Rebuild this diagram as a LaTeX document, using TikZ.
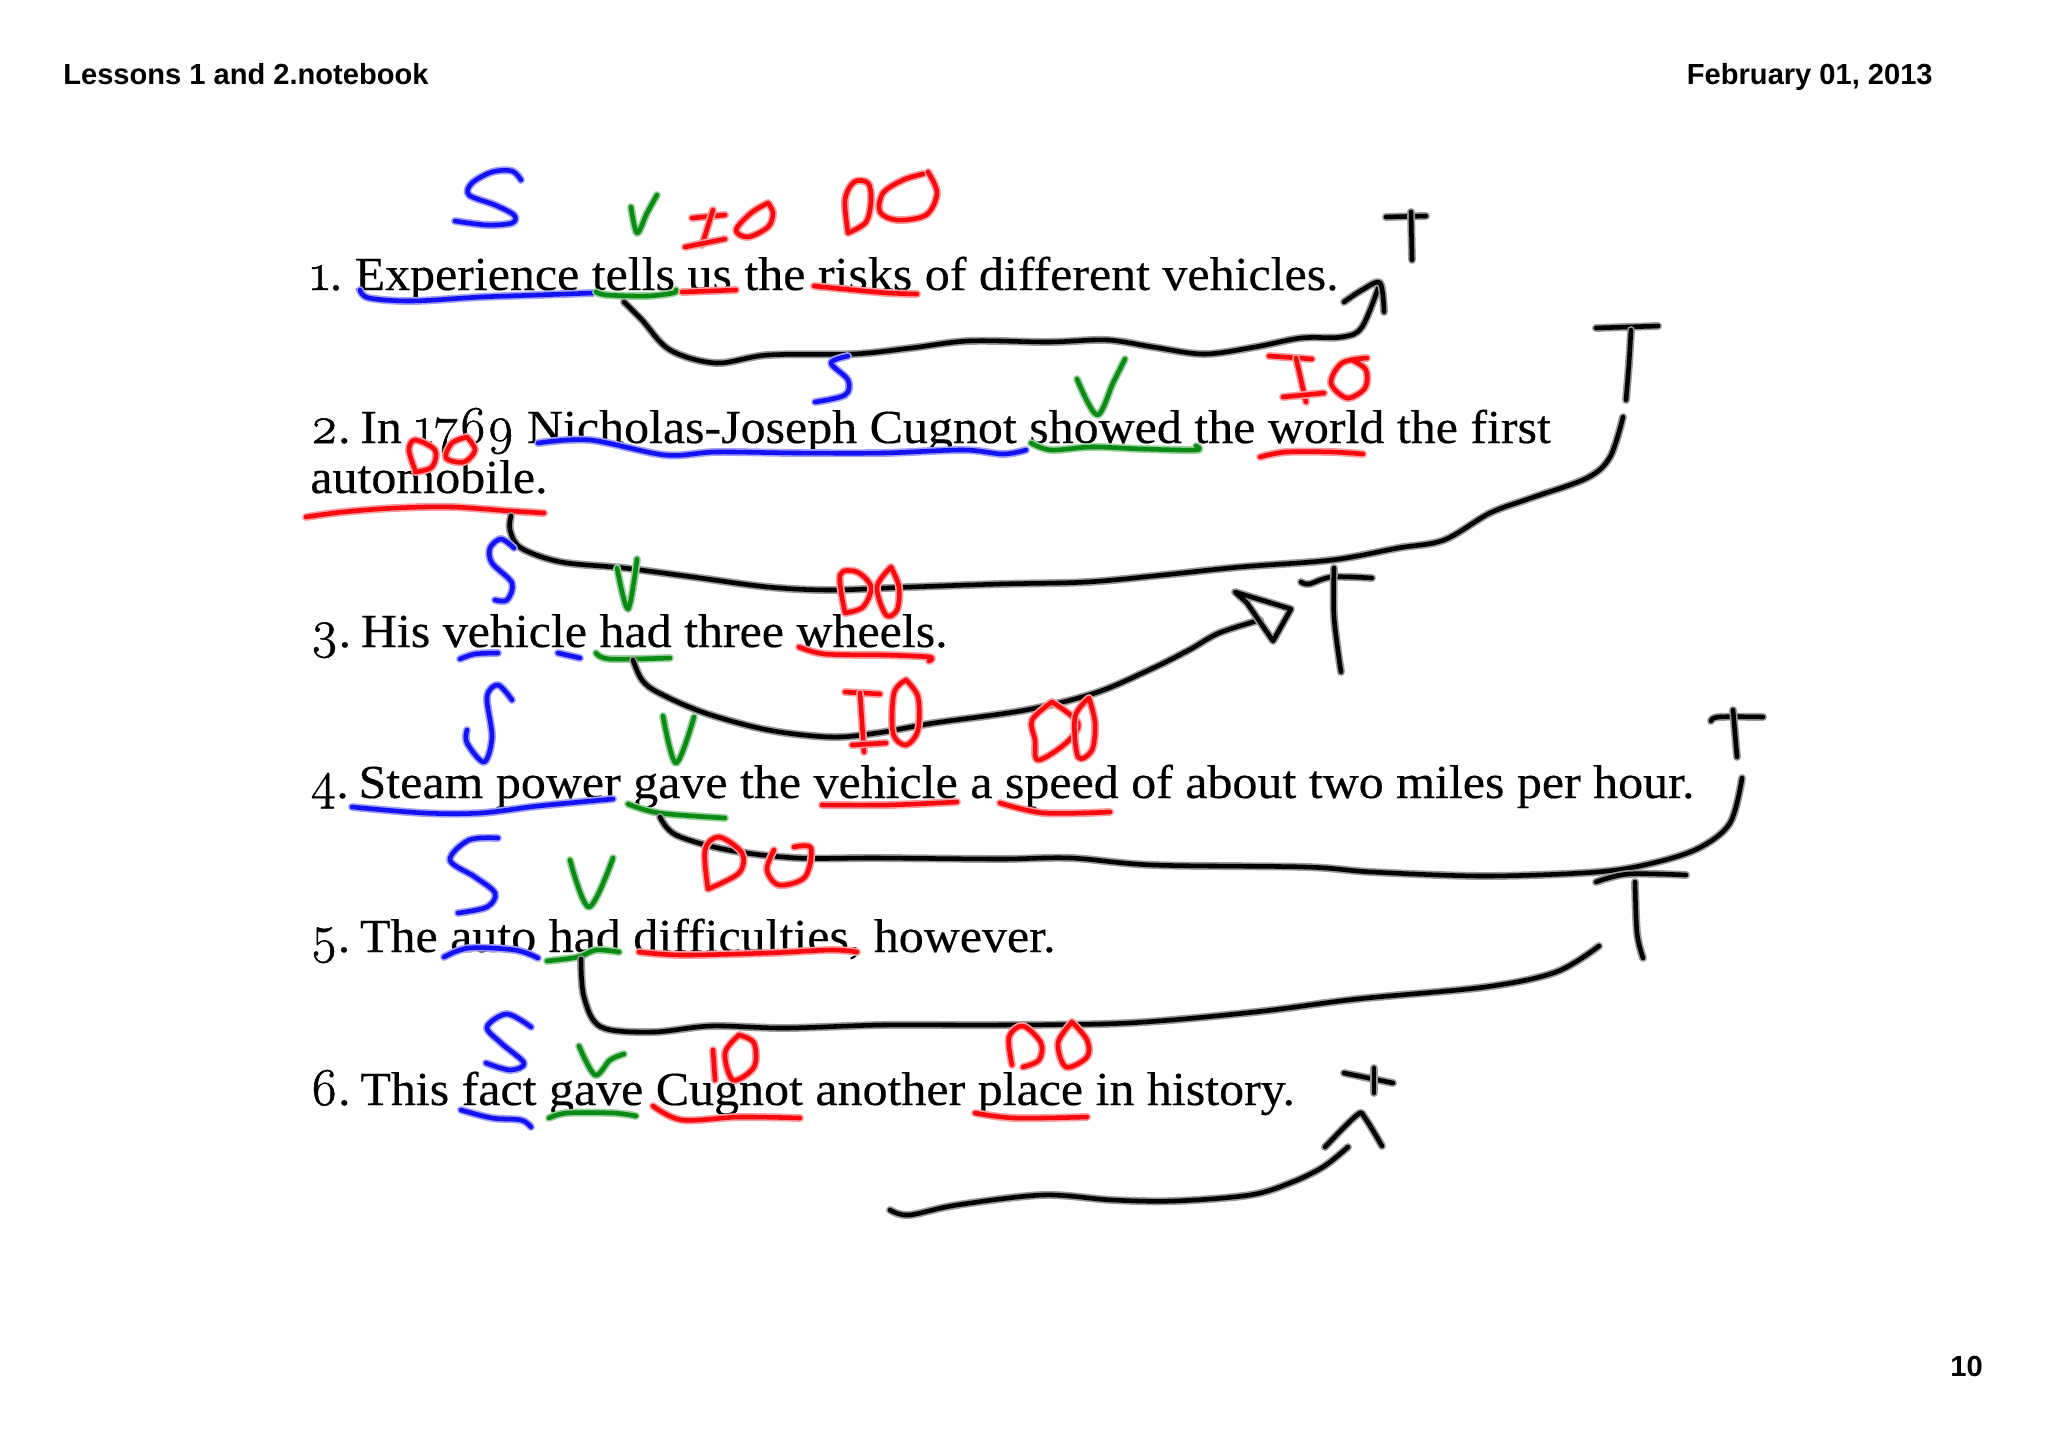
\documentclass[tikz,border=0pt]{standalone}
\usepackage{fontspec}
\setmainfont[FakeStretch=1.053,FakeBold=0.35]{Liberation Serif}
\newfontfamily\headfont{Liberation Sans}
\newfontfamily\numfont[Numbers=OldStyle,Scale=1.12,FakeBold=1]{Latin Modern Roman}
\newcommand{\olds}[1]{{\numfont #1}}
\newcommand{\pen}[2]{\draw[#1] plot[smooth,tension=.55] coordinates {#2};}
\definecolor{inkblue}{RGB}{18,18,245}
\definecolor{inkgreen}{RGB}{10,140,20}
\definecolor{inkred}{RGB}{250,10,15}
\tikzset{
	ink/.style={draw=#1,line width=2.6pt,preaction={draw=#1!40,line width=4.5pt}},
	bl/.style={ink=inkblue},
	gr/.style={ink=inkgreen},
	rd/.style={ink=inkred},
	bk/.style={ink=black},
	sentence/.style={anchor=base west,inner sep=0pt,font=\fontsize{27}{27}\selectfont},
	head/.style={inner sep=0pt,font=\fontsize{16.55}{17}\headfont\bfseries}
}
\begin{document}
\begin{tikzpicture}[x=0.02cm,y=-0.02cm,line join=round,line cap=round]
	\useasboundingbox (0,0) rectangle (2048,1447);
	% page header and number
	\node[head,anchor=base west] (title) at (63,84) {Lessons 1 and 2.notebook};
	\node[head,anchor=base east] (date) at (1933,84) {February 01, 2013};
	\node[head,anchor=base east] (page) at (1983,1376) {10};
	% sentences
	\node[sentence] (s1) at (310,290) {\olds{1}.\kern-2.4pt{} Experience tells us the risks of different vehicles.};
	\node[sentence] (s2) at (310,443) {\olds{2}.\kern-3.9pt{} In \olds{1769} Nicholas-Joseph Cugnot showed the world the first};
	\node[sentence] (s2b) at (310,493) {automobile.};
	\node[sentence] (s3) at (310,647) {\olds{3}.\kern-3.9pt{} His vehicle had three wheels.};
	\node[sentence] (s4) at (310,798) {\olds{4}.\kern-3.9pt{} Steam power gave the vehicle a speed of about two miles per hour.};
	\node[sentence] (s5) at (310,952) {\olds{5}.\kern-3.9pt{} The auto had difficulties, however.};
	\node[sentence] (s6) at (310,1105) {\olds{6}.\kern-3.9pt{} This fact gave Cugnot another place in history.};
	% sentence 1
	\pen{bl}{(521,180)(512,171)(492,172)(472,183)(469,195)(495,205)(514,215)(512,223)(487,225)(455,221)}
	\pen{gr}{(631,207)(637,233)(647,213)(657,195)}
	\pen{rd}{(692,218)(725,215)}
	\pen{rd}{(713,210)(702,245)}
	\pen{rd}{(685,247)(725,239)}
	\pen{rd}{(768,203)(751,213)(736,230)(748,237)(768,227)(773,213)(768,203)}
	\pen{rd}{(848,233)(845,200)(854,182)(868,183)(871,200)(866,222)(848,233)}
	\pen{rd}{(928,172)(937,193)(926,215)(897,220)(880,212)(883,193)(903,180)(923,174)}
	\pen{bl}{(360,290)(369,298)(412,301)(481,297)(538,295)(593,293)}
	\pen{gr}{(596,292)(607,295)(647,296)(673,293)(676,290)}
	\pen{rd}{(682,292)(710,291)(736,290)}
	\pen{rd}{(814,286)(854,290)(888,293)(917,294)}
	\pen{bk}{(624,302)(642,320)(670,350)(716,363)(768,355)(854,354)(911,348)(969,341)(1049,342)(1107,340)(1153,347)(1204,354)(1255,347)(1301,338)(1342,337)(1362,327)(1380,283)}
	\pen{bk}{(1344,302)(1362,290)(1380,283)(1384,312)}
	\pen{bk}{(1386,217)(1426,216)}
	\pen{bk}{(1411,212)(1412,260)}
	% sentence 2
	\pen{bl}{(848,356)(831,363)(848,380)(845,395)(815,402)}
	\pen{gr}{(1077,379)(1097,415)(1113,383)(1125,359)}
	\pen{rd}{(1269,356)(1312,359)}
	\pen{rd}{(1296,358)(1306,402)}
	\pen{rd}{(1283,397)(1324,393)}
	\pen{rd}{(1367,358)(1342,363)(1331,383)(1347,398)(1365,388)(1366,370)(1352,360)}
	\pen{bl}{(538,443)(590,440)(665,455)(716,452)(797,453)(883,453)(963,450)(1003,454)(1026,450)}
	\pen{gr}{(1031,443)(1051,450)(1092,447)(1143,449)(1196,450)(1196,446)}
	\pen{rd}{(1260,457)(1286,452)(1332,452)(1363,454)}
	\pen{rd}{(415,470)(409,450)(415,440)(435,450)(432,467)(415,472)}
	\pen{rd}{(467,437)(452,443)(446,458)(464,462)(475,450)(467,437)}
	\pen{rd}{(306,517)(343,512)(395,508)(452,507)(510,511)(544,513)}
	\pen{bk}{(511,516)(510,530)(521,548)(561,562)(624,568)(693,577)(768,587)(831,590)(911,587)(1000,584)(1087,582)(1163,575)(1240,567)(1332,560)(1398,548)(1444,540)(1490,513)(1531,498)(1587,478)(1610,457)(1623,417)}
	\pen{bk}{(1596,328)(1658,326)}
	\pen{bk}{(1631,330)(1629,363)(1626,400)}
	% sentence 3
	\pen{bl}{(514,548)(501,539)(490,548)(492,563)(512,583)(507,600)(495,600)}
	\pen{gr}{(617,568)(628,609)(637,559)}
	\pen{rd}{(845,613)(840,575)(857,572)(871,587)(863,607)(845,613)}
	\pen{rd}{(891,567)(877,587)(886,615)(897,610)(899,587)(891,567)}
	\pen{bl}{(460,659)(475,654)(498,653)}
	\pen{bl}{(558,653)(580,658)}
	\pen{gr}{(596,653)(610,659)(670,658)}
	\pen{rd}{(799,647)(825,654)(883,655)(929,657)(929,661)}
	\pen{bk}{(633,660)(642,680)(659,693)(705,713)(768,730)(831,737)(877,733)(934,723)(1026,710)(1095,693)(1149,670)(1189,650)(1219,633)(1260,620)}
	\draw[bk] (1235,592)--(1291,609)--(1273,641)--(1247,603)--cycle;
	\pen{bk}{(1301,582)(1309,584)(1332,577)(1372,578)}
	\pen{bk}{(1334,568)(1334,617)(1341,672)}
	% sentence 4
	\pen{bl}{(512,700)(498,685)(487,697)(492,737)(484,762)(467,743)(467,730)}
	\pen{gr}{(663,716)(676,763)(694,717)}
	\pen{rd}{(845,692)(880,694)}
	\pen{rd}{(860,693)(864,752)}
	\pen{rd}{(852,745)(886,743)}
	\pen{rd}{(906,680)(894,693)(893,733)(906,745)(918,730)(918,697)(906,680)}
	\pen{rd}{(1052,702)(1032,720)(1035,740)(1038,760)(1066,743)(1078,723)(1052,702)}
	\pen{rd}{(1089,698)(1075,717)(1078,757)(1092,750)(1095,723)(1089,698)}
	\pen{bl}{(352,807)(424,813)(481,813)(538,806)(613,799)}
	\pen{gr}{(628,804)(659,813)(725,818)}
	\pen{rd}{(822,805)(888,805)(957,802)}
	\pen{rd}{(1000,803)(1044,813)(1110,812)}
	\pen{bk}{(660,817)(676,835)(728,850)(797,858)(877,858)(1000,859)(1071,858)(1153,865)(1306,867)(1372,872)(1485,876)(1597,872)(1653,863)(1699,848)(1730,823)(1742,778)}
	\pen{bk}{(1711,721)(1719,717)(1763,717)}
	\pen{bk}{(1733,710)(1737,757)}
	% sentence 5
	\pen{bl}{(498,838)(469,840)(450,860)(475,877)(495,893)(487,907)(458,913)}
	\pen{gr}{(570,860)(589,907)(613,858)}
	\pen{rd}{(708,889)(705,850)(719,837)(742,853)(739,873)(708,889)}
	\pen{rd}{(774,850)(767,870)(779,885)(805,877)(811,848)(794,847)}
	\pen{bl}{(444,957)(469,948)(515,950)(538,958)}
	\pen{gr}{(547,961)(578,957)(596,950)(619,952)}
	\pen{rd}{(639,952)(682,955)(768,953)(831,950)(857,952)}
	\pen{bk}{(581,959)(584,997)(601,1027)(653,1032)(711,1026)(785,1028)(883,1025)(1000,1025)(1128,1023)(1255,1012)(1357,999)(1485,987)(1556,972)(1599,946)}
	\pen{bk}{(1596,882)(1628,874)(1686,875)}
	\pen{bk}{(1635,882)(1637,933)(1643,958)}
	% sentence 6
	\pen{bl}{(531,1027)(507,1014)(487,1027)(501,1043)(524,1063)(510,1070)(486,1063)}
	\pen{gr}{(579,1046)(595,1075)(610,1060)(624,1054)}
	\pen{rd}{(713,1050)(715,1080)}
	\pen{rd}{(739,1035)(725,1053)(733,1080)(754,1067)(754,1043)(739,1035)}
	\pen{rd}{(1012,1065)(1009,1037)(1023,1026)(1041,1043)(1039,1060)(1023,1067)}
	\pen{rd}{(1072,1022)(1058,1043)(1066,1067)(1087,1057)(1087,1040)(1072,1022)}
	\pen{bl}{(461,1110)(492,1118)(521,1120)(531,1127)}
	\pen{gr}{(549,1118)(567,1113)(613,1113)(636,1116)}
	\pen{rd}{(653,1106)(682,1120)(739,1117)(800,1118)}
	\pen{rd}{(975,1113)(1015,1118)(1087,1117)}
	\pen{bk}{(890,1210)(909,1215)(957,1205)(1043,1195)(1112,1200)(1175,1201)(1250,1195)(1290,1183)(1323,1167)(1348,1147)}
	\pen{bk}{(1325,1147)(1357,1115)(1365,1118)(1382,1146)}
	\pen{bk}{(1344,1073)(1393,1083)}
	\pen{bk}{(1374,1068)(1374,1093)}
\end{tikzpicture}
\end{document}
